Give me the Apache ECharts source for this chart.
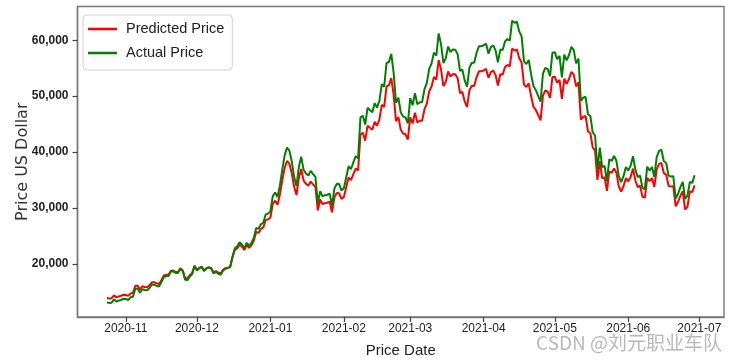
<!DOCTYPE html>
<html>
<head>
<meta charset="utf-8">
<script src="https://cdn.jsdelivr.net/npm/echarts@6/dist/echarts.min.js"></script>
<style>
html,body{margin:0;padding:0;background:#fff;}
#chart{width:736px;height:364px;}
</style>
</head>
<body>
<div id="chart"></div>
<script>
// ---- data (daily, starting 2020-10-24) ----
const startDate = '2020-10-24';
const monthTicks = ['2020-11','2020-12','2021-01','2021-02','2021-03','2021-04','2021-05','2021-06','2021-07'];
const yTicks = [20000, 30000, 40000, 50000, 60000];
const seriesNames = ['Predicted Price', 'Actual Price'];

const actualPrice = [
13108,13031,13075,13654,13271,13437,13546,13781,
13737,13550,14023,14133,15579,15565,14833,15479,15332,15290,15701,16277,16317,16068,15955,16716,17645,17804,17817,18621,18642,18370,18364,19107,18732,17150,17108,17718,18177,19625,
18803,19201,19445,18699,19154,19345,19191,18321,18553,18264,18058,18803,19142,19246,19417,21310,22805,23137,23869,23477,22803,23783,23241,23735,24665,26437,26272,27084,27362,28840,29001,
29374,32127,32782,31971,33992,36824,39371,40797,40254,38356,35566,33923,37316,39187,36825,36178,35792,36630,36069,35548,30825,33005,32067,32289,32366,32569,30432,33467,34316,34269,33114,
33537,35510,37473,36926,38144,39266,38903,46196,46481,44919,47910,47505,47106,48717,47945,49200,52149,51679,55888,56100,57539,54208,48824,49705,47093,46339,46188,45137,
49631,48378,50538,48561,48927,48913,51207,52375,54885,55851,57773,57221,61188,59302,55907,56804,58871,57858,58346,58313,57524,54529,54738,52774,51705,55137,55974,55948,57750,58918,58918,
59095,59384,57604,58759,59057,58192,56048,58323,58245,59793,60204,59893,63503,63110,63315,61572,60683,56216,55724,56473,53906,51763,51094,50050,49004,54021,55034,54824,53555,57750,
57828,56631,57200,53333,57424,56397,57357,58804,58232,55859,56704,49150,49716,49880,46760,46456,43538,42909,36964,40784,37304,37536,34770,38706,38403,39294,38436,35698,34616,35678,37333,
36693,37568,39249,36857,35520,35797,33552,33403,37389,36702,37338,35552,39098,40219,40407,38347,38053,35787,35615,35698,31676,32505,33724,34663,31594,32243,34650,34497,35867
];

const predictedPrice = [
13900,13830,13870,14380,14050,14190,14290,14500,
14460,14290,14710,14810,16090,16080,15430,16000,15870,15830,16200,16710,16740,16520,16420,17090,17920,18060,18070,18780,18800,18560,18550,19210,18880,17480,17440,17980,18390,19670,
18940,19290,19510,18850,19250,19420,19280,18510,18720,18460,18280,18940,19240,19330,19480,21160,22480,22780,23420,23080,22480,23350,22870,23310,24130,25700,25550,26270,26520,27820,27970,
28300,30730,31310,30590,32380,34890,37140,38410,37920,36250,33780,32320,35320,36980,34890,34320,33980,34720,34220,33760,29580,31510,30680,30880,30940,31120,29230,31920,32670,32630,31610,
31980,33730,35460,34980,36060,37050,36730,43180,43440,42050,44700,44340,43990,45410,44730,45840,48450,48040,51760,51950,53220,50270,45510,46290,43980,43310,43180,42250,
46220,45120,47030,45280,45600,45590,47620,48650,50870,51730,53430,52940,56450,54780,51780,52570,54400,53500,53940,53910,53210,50560,50740,49010,48060,51100,51840,51810,53410,54440,54440,
54600,54860,53280,54300,54570,53800,51900,53920,53850,55220,55580,55310,58500,58150,58330,56790,56000,52050,51620,52280,50010,48110,47520,46590,45670,50110,51010,50820,49700,53410,
53480,52420,52920,49500,53120,52210,53060,54340,53840,51740,52480,45800,46300,46440,43680,43410,40830,40270,35010,38390,35310,35520,33070,36560,36290,37080,36320,33890,32940,33880,35340,
34770,35550,37040,34920,33740,33980,31990,31860,35390,34780,35340,33760,36900,37890,38060,36240,35980,33970,33820,33890,30330,31070,32150,32980,29700,30300,32970,32830,34040
];

// ---- build ----
const DAY = 86400000;
const t0 = Date.parse(startDate + 'T00:00:00Z');
const dates = actualPrice.map((_, i) => t0 + i * DAY);
const span = dates[dates.length - 1] - dates[0];
const xMin = dates[0] - span * 0.05;
const xMax = dates[dates.length - 1] + span * 0.05;
const yMinData = Math.min(...actualPrice, ...predictedPrice);
const yMaxData = Math.max(...actualPrice, ...predictedPrice);
const yPad = (yMaxData - yMinData) * 0.05;
const tickTs = monthTicks.map(m => Date.parse(m + '-01T00:00:00Z'));

const fmtMonth = v => {
  const d = new Date(v);
  return d.getUTCFullYear() + '-' + String(d.getUTCMonth() + 1).padStart(2, '0');
};
const fmtNum = v => Math.round(v).toString().replace(/\B(?=(\d{3})+(?!\d))/g, ',');

const chart = echarts.init(document.getElementById('chart'), null, {renderer: 'canvas'});
chart.setOption({
  animation: false,
  backgroundColor: '#fff',
  textStyle: {fontFamily: 'Liberation Sans'},
  grid: {
    left: 77.5, right: 12, top: 6.5, bottom: 47,
    outerBoundsMode: 'none',
    containLabel: false,
    show: true, borderColor: '#777', borderWidth: 1.4, backgroundColor: 'transparent'
  },
  legend: {
    orient: 'vertical',
    left: 83, top: 15,
    data: seriesNames,
    icon: 'rect',
    itemWidth: 29, itemHeight: 2.5,
    itemGap: 6,
    padding: [5, 8, 8, 5],
    borderColor: '#d0d0d0', borderWidth: 1, borderRadius: 4,
    backgroundColor: '#fff',
    textStyle: {fontFamily: 'Liberation Sans', fontSize: 14.5, color: '#222', lineHeight: 18, padding: [0, 0, 0, 4]}
  },
  xAxis: {
    type: 'value',
    min: xMin, max: xMax,
    name: 'Price Date',
    nameLocation: 'middle',
    nameGap: 26,
    nameMoveOverlap: false,
    nameTextStyle: {fontFamily: 'Liberation Sans', fontSize: 15, color: '#222'},
    axisLine: {show: true, lineStyle: {color: '#777', width: 1.4}},
    axisTick: {show: true, customValues: tickTs, length: 5, lineStyle: {color: '#444', width: 1.2}},
    axisLabel: {customValues: tickTs, formatter: fmtMonth, fontSize: 12, color: '#222', margin: 6, fontFamily: 'Liberation Sans', showMinLabel: true, showMaxLabel: true},
    splitLine: {show: false}
  },
  yAxis: {
    type: 'value',
    min: yMinData - yPad, max: yMaxData + yPad,
    name: 'Price US Dollar',
    nameLocation: 'middle',
    nameGap: 47,
    nameMoveOverlap: false,
    nameRotate: 90,
    nameTextStyle: {fontFamily: 'DejaVu Sans', fontSize: 16, color: '#333'},
    axisLine: {show: true, lineStyle: {color: '#777', width: 1.4}},
    axisTick: {show: true, customValues: yTicks, length: 5, lineStyle: {color: '#444', width: 1.2}},
    axisLabel: {customValues: yTicks, formatter: fmtNum, fontSize: 12, color: '#222', margin: 9, fontFamily: 'Liberation Sans', fontWeight: 'bold'},
    splitLine: {show: false}
  },
  series: [
    {
      name: seriesNames[0], type: 'line', showSymbol: false, symbol: 'none',
      data: dates.map((d, i) => [d, predictedPrice[i]]),
      lineStyle: {color: '#ff0000', width: 2},
      itemStyle: {color: '#ff0000'}
    },
    {
      name: seriesNames[1], type: 'line', showSymbol: false, symbol: 'none',
      data: dates.map((d, i) => [d, actualPrice[i]]),
      lineStyle: {color: '#008000', width: 2},
      itemStyle: {color: '#008000'}
    }
  ],
  graphic: [{
    type: 'text', right: 14, top: 333,
    style: {text: 'CSDN @刘元职业车队', font: '19px "Noto Sans CJK SC"', fill: '#b8b8b8'}
  }]
});
</script>
</body>
</html>
